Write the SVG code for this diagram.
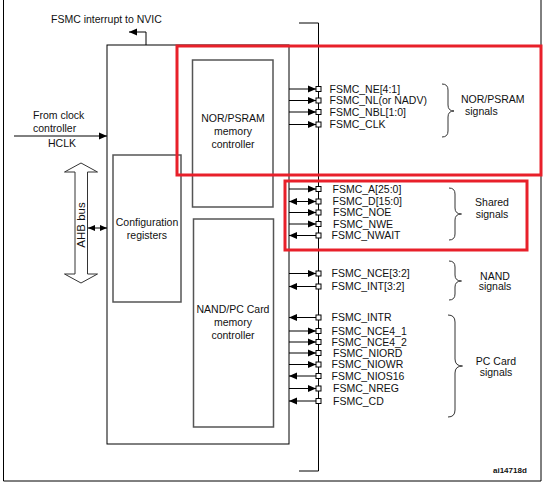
<svg xmlns="http://www.w3.org/2000/svg" width="543" height="483" viewBox="0 0 543 483">
<style>
text{font-family:"Liberation Sans",Arial,sans-serif;font-size:10.5px;fill:#111}
.mid{text-anchor:middle}
.ln{stroke:#000;stroke-width:1;fill:none}
.box{fill:#fff;stroke:#555;stroke-width:1.5}
.pin{fill:#fff;stroke:#000;stroke-width:1}
.brace{fill:none;stroke:#333;stroke-width:1}
.red{fill:none;stroke:#e8202a;stroke-width:3}
</style>
<defs>
<marker id="ah" markerUnits="userSpaceOnUse" markerWidth="8" markerHeight="8" refX="8" refY="4" orient="auto-start-reverse">
<path d="M0,0.5 L8,4 L0,7.5 z" fill="#000"/>
</marker>
<marker id="ahs" markerUnits="userSpaceOnUse" markerWidth="7" markerHeight="7" refX="7" refY="3.5" orient="auto-start-reverse">
<path d="M0,0.5 L7,3.5 L0,6.5 z" fill="#000"/>
</marker>
</defs>

<g id="frame">
<path class="ln" d="M3.5,0 V481 H541 V0" stroke-width="1.3"/>
</g>

<g id="fsmc-block">
<rect x="107" y="45" width="182" height="399" fill="#fff" stroke="#000" stroke-width="1"/>
</g>

<g id="nor-controller">
<rect class="box" x="192.5" y="60" width="80.5" height="147"/>
<text class="mid" x="233" y="121.5">NOR/PSRAM</text>
<text class="mid" x="233" y="135">memory</text>
<text class="mid" x="233" y="148">controller</text>
</g>

<g id="config-registers">
<rect class="box" x="113" y="155" width="68" height="147"/>
<text class="mid" x="147" y="225.5">Configuration</text>
<text class="mid" x="147" y="238.5">registers</text>
</g>

<g id="nand-controller">
<rect class="box" x="193.5" y="219" width="80" height="208"/>
<text class="mid" x="233" y="312.5">NAND/PC Card</text>
<text class="mid" x="233" y="325.5">memory</text>
<text class="mid" x="233" y="338.5">controller</text>
</g>

<g id="ahb-bus">
<path d="M81,163 L97.5,172 H87.5 V274 H97.5 L81,283 L64.5,274 H75 V172 H64.5 Z" fill="#fff" stroke="#333" stroke-width="1"/>
<text class="mid" transform="translate(85,225) rotate(-90)" style="font-size:11.5px">AHB bus</text>
</g>

<g id="labels">
<text x="51" y="22.7">FSMC interrupt to NVIC</text>
<text x="33" y="119">From clock</text>
<text x="33" y="131.5">controller</text>
<text x="48" y="147">HCLK</text>
<text x="461" y="103">NOR/PSRAM</text>
<text x="465" y="114.5">signals</text>
<text class="mid" x="492" y="206">Shared</text>
<text class="mid" x="492" y="218">signals</text>
<text class="mid" x="495" y="279.5">NAND</text>
<text class="mid" x="495" y="290">signals</text>
<text class="mid" x="496" y="365">PC Card</text>
<text class="mid" x="496" y="376">signals</text>
<text x="493" y="473" style="font-size:8px;font-weight:bold">ai14718d</text>
</g>

<g id="connectors">
<path class="ln" d="M146,45 V32 H129" marker-end="url(#ah)"/>
<path class="ln" d="M14,136 H107" marker-end="url(#ah)"/>
<path class="ln" d="M88,228 H107" marker-start="url(#ahs)" marker-end="url(#ahs)"/>
<path class="ln" d="M299,23 H318.5 V471 H299"/>
<!-- NOR -->
<path class="ln" d="M289,89 H316" marker-end="url(#ah)"/>
<path class="ln" d="M289,100.5 H316" marker-end="url(#ah)"/>
<path class="ln" d="M289,112 H316" marker-end="url(#ah)"/>
<path class="ln" d="M289,124.5 H316" stroke="#777" marker-end="url(#ah)"/>
<!-- Shared -->
<path class="ln" d="M289,189 H316" marker-end="url(#ah)"/>
<path class="ln" d="M289,201.5 H316" marker-start="url(#ah)" marker-end="url(#ah)"/>
<path class="ln" d="M289,212.5 H316" marker-end="url(#ah)"/>
<path class="ln" d="M289,224 H316" marker-end="url(#ah)"/>
<path class="ln" d="M316,235.5 H289" marker-end="url(#ah)"/>
<!-- NAND -->
<path class="ln" d="M289,273.5 H316" marker-end="url(#ah)"/>
<path class="ln" d="M316,286.5 H289" marker-end="url(#ah)"/>
<!-- PC card -->
<path class="ln" d="M316,317.5 H289" marker-end="url(#ah)"/>
<path class="ln" d="M289,331 H316" marker-end="url(#ah)"/>
<path class="ln" d="M289,342 H316" marker-end="url(#ah)"/>
<path class="ln" d="M289,353 H316" marker-end="url(#ah)"/>
<path class="ln" d="M289,364.5 H316" marker-end="url(#ah)"/>
<path class="ln" d="M316,376 H289" marker-end="url(#ah)"/>
<path class="ln" d="M289,388.5 H316" marker-end="url(#ah)"/>
<path class="ln" d="M316,401 H289" marker-end="url(#ah)"/>
<!-- braces -->
<path class="brace" d="M442,84 Q448,84 448,90 V105 Q448,111 454,111 Q448,111 448,117 V131 Q448,137 442,137"/>
<path class="brace" d="M449,188 Q455,188 455,194 V208 Q455,214 461.5,214 Q455,214 455,220 V234 Q455,240 449,240"/>
<path class="brace" d="M449,261 Q455,261 455,267 V275 Q455,281 461.5,281 Q455,281 455,287 V294 Q455,300 449,300"/>
<path class="brace" d="M448,315 Q455,315 455,322 V359 Q455,366 462.5,366 Q455,366 455,373 V410 Q455,417 448,417"/>
</g>

<g id="pins">
<rect class="pin" x="316" y="86.5" width="5" height="5"/>
<rect class="pin" x="316" y="98" width="5" height="5"/>
<rect class="pin" x="316" y="109.5" width="5" height="5"/>
<rect class="pin" x="316" y="122" width="5" height="5" stroke="#777"/>
<rect class="pin" x="316" y="186.5" width="5" height="5"/>
<rect class="pin" x="316" y="199" width="5" height="5"/>
<rect class="pin" x="316" y="210" width="5" height="5"/>
<rect class="pin" x="316" y="221.5" width="5" height="5"/>
<rect class="pin" x="316" y="233" width="5" height="5"/>
<rect class="pin" x="316" y="271" width="5" height="5"/>
<rect class="pin" x="316" y="284" width="5" height="5"/>
<rect class="pin" x="316" y="315" width="5" height="5"/>
<rect class="pin" x="316" y="328.5" width="5" height="5"/>
<rect class="pin" x="316" y="339.5" width="5" height="5"/>
<rect class="pin" x="316" y="350.5" width="5" height="5"/>
<rect class="pin" x="316" y="362" width="5" height="5"/>
<rect class="pin" x="316" y="373.5" width="5" height="5"/>
<rect class="pin" x="316" y="386" width="5" height="5"/>
<rect class="pin" x="316" y="398.5" width="5" height="5"/>
</g>

<g id="signal-labels">
<text x="329.5" y="92.8">FSMC_NE[4:1]</text>
<text x="329.5" y="104.3">FSMC_NL(or NADV)</text>
<text x="329.5" y="115.8">FSMC_NBL[1:0]</text>
<text x="329.5" y="128.3">FSMC_CLK</text>
<text x="332.5" y="192.8">FSMC_A[25:0]</text>
<text x="332.5" y="205.3">FSMC_D[15:0]</text>
<text x="333" y="216.3">FSMC_NOE</text>
<text x="333" y="227.8">FSMC_NWE</text>
<text x="331.5" y="239.3">FSMC_NWAIT</text>
<text x="331.5" y="277.3">FSMC_NCE[3:2]</text>
<text x="331.5" y="290.3">FSMC_INT[3:2]</text>
<text x="331.5" y="321.3">FSMC_INTR</text>
<text x="331.5" y="334.8">FSMC_NCE4_1</text>
<text x="331.5" y="345.8">FSMC_NCE4_2</text>
<text x="333" y="356.8">FSMC_NIORD</text>
<text x="331.5" y="368.3">FSMC_NIOWR</text>
<text x="331.5" y="379.8">FSMC_NIOS16</text>
<text x="333" y="392.3">FSMC_NREG</text>
<text x="333" y="404.8">FSMC_CD</text>
</g>

<g id="highlights">
<rect class="red" x="177" y="46" width="364" height="129"/>
<rect class="red" x="285" y="181" width="242" height="69"/>
</g>
</svg>
